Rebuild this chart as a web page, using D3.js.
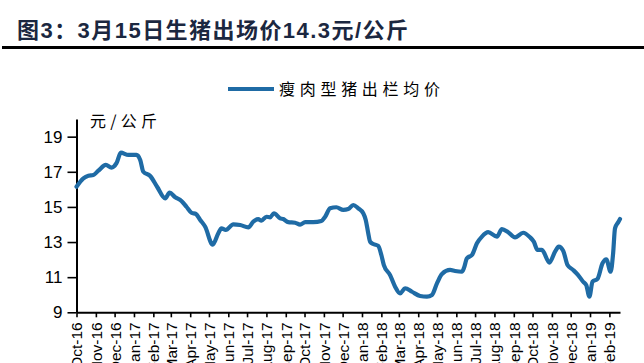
<!DOCTYPE html>
<html><head><meta charset="utf-8">
<script src="https://cdn.jsdelivr.net/npm/d3@7"></script>
<style>
html,body{margin:0;padding:0;background:#fff;overflow:hidden;}
svg{display:block;}
</style></head>
<body>
<svg id="chart" width="644" height="363"></svg>
<script>
const title = "图3：3月15日生猪出场价14.3元/公斤";
const seriesName = "瘦肉型猪出栏均价";
const unitLabel = "元/公斤";
const yTicks = [9, 11, 13, 15, 17, 19];
const monthTicks = ["2016-10-01","2016-11-01","2016-12-01","2017-01-01","2017-02-01","2017-03-01","2017-04-01","2017-05-01","2017-06-01","2017-07-01","2017-08-01","2017-09-01","2017-10-01","2017-11-01","2017-12-01","2018-01-01","2018-02-01","2018-03-01","2018-04-01","2018-05-01","2018-06-01","2018-07-01","2018-08-01","2018-09-01","2018-10-01","2018-11-01","2018-12-01","2019-01-01","2019-02-01"];
const dates = ["2016-10-01","2016-10-12","2016-10-20","2016-10-28","2016-11-05","2016-11-17","2016-11-26","2016-12-04","2016-12-11","2016-12-23",
"2017-01-05","2017-01-11","2017-01-16","2017-01-27","2017-02-07","2017-02-20","2017-02-27","2017-03-08","2017-03-18","2017-03-26",
"2017-04-03","2017-04-10","2017-04-17","2017-04-25","2017-05-07","2017-05-16","2017-05-21","2017-05-28","2017-06-09","2017-06-20",
"2017-07-03","2017-07-11","2017-07-19","2017-07-24","2017-08-01","2017-08-07","2017-08-13","2017-08-23","2017-08-28","2017-09-05",
"2017-09-16","2017-09-24","2017-10-02","2017-10-15","2017-10-28","2017-11-03","2017-11-11","2017-11-21","2017-12-02","2017-12-10",
"2017-12-18","2017-12-26","2018-01-03","2018-01-07","2018-01-11","2018-01-14","2018-01-19","2018-01-27","2018-02-01","2018-02-05",
"2018-02-15","2018-02-23","2018-03-03","2018-03-11","2018-03-22","2018-04-04","2018-04-15","2018-04-23","2018-05-01","2018-05-09",
"2018-05-22","2018-05-30","2018-06-10","2018-06-13","2018-06-18","2018-06-26","2018-07-04","2018-07-12","2018-07-22","2018-08-05",
"2018-08-13","2018-08-23","2018-09-03","2018-09-16","2018-09-27","2018-10-03","2018-10-09","2018-10-16","2018-10-28","2018-11-06",
"2018-11-12","2018-11-19","2018-11-26","2018-12-05","2018-12-13","2018-12-21","2018-12-26","2018-12-31","2019-01-05","2019-01-13",
"2019-01-21","2019-01-27","2019-02-03","2019-02-07","2019-02-10","2019-02-15","2019-02-18"];
const prices = [16.15,16.63,16.78,16.82,17.06,17.39,17.24,17.49,18.09,17.96,
17.96,17.67,17.00,16.76,16.15,15.49,15.81,15.55,15.34,15.01,
14.67,14.60,14.26,13.87,12.85,13.50,13.78,13.69,14.01,13.97,
13.84,14.16,14.30,14.22,14.44,14.41,14.64,14.35,14.31,14.13,
14.10,13.99,14.13,14.13,14.20,14.44,14.92,14.98,14.83,14.88,
15.11,14.92,14.64,14.26,13.50,13.02,12.89,12.78,12.26,11.69,
11.12,10.46,10.08,10.37,10.17,9.93,9.89,9.99,10.65,11.18,
11.41,11.35,11.31,11.50,12.08,12.26,12.93,13.31,13.56,13.31,
13.74,13.56,13.27,13.53,13.27,13.02,12.55,12.55,11.83,12.45,
12.74,12.51,11.69,11.41,11.12,10.74,10.55,9.89,10.74,10.90,
11.79,12.02,11.31,12.36,13.78,14.12,14.31];

const parse = d3.utcParse("%Y-%m-%d");
const data = dates.map((d,i)=>({date:parse(d), v:prices[i]}));
const svg = d3.select("#chart");

// title
svg.append("text").attr("x",17).attr("y",38)
  .attr("font-family","'Liberation Sans','Noto Sans CJK SC',sans-serif")
  .attr("font-weight","bold").attr("font-size",22)
  .attr("textLength",391).attr("lengthAdjust","spacing")
  .attr("fill","#1b2740").text(title);
svg.append("rect").attr("x",2).attr("y",46).attr("width",642).attr("height",3).attr("fill","#000");

const x = d3.scaleUtc().domain([parse("2016-10-01"), parse("2019-02-18")]).range([76.5, 620]);
const y = d3.scaleLinear().domain([9,20]).range([312.3,119.1]);

// y axis
const ya = svg.append("g").attr("transform","translate(76.5,0)")
  .call(d3.axisLeft(y).tickValues(yTicks).tickSize(9).tickSizeOuter(0).tickPadding(5).tickFormat(d3.format("d")));
ya.select(".domain").attr("stroke","#000").attr("stroke-width",2);
ya.selectAll(".tick line").attr("stroke","#000").attr("stroke-width",1.6);
ya.selectAll(".tick text").attr("font-family","'Liberation Sans',Arial,sans-serif").attr("font-size",17).attr("fill","#000");

// x axis
const xa = svg.append("g").attr("transform","translate(0,312.3)")
  .call(d3.axisBottom(x).tickValues(monthTicks.map(parse)).tickSize(5).tickSizeOuter(0).tickFormat(d3.utcFormat("%b-%y")));
xa.select(".domain").attr("stroke","#000").attr("stroke-width",2);
xa.selectAll(".tick line").attr("stroke","#000").attr("stroke-width",1.6);
xa.selectAll(".tick text").attr("font-family","'Liberation Sans',Arial,sans-serif").attr("font-size",15.5).attr("fill","#000")
  .attr("transform","rotate(-90)").attr("text-anchor","end").attr("x",-10).attr("y",0).attr("dy","0.35em");

// unit label
svg.append("text").attr("x",90).attr("y",127)
  .attr("font-family","'Noto Sans CJK SC',sans-serif").attr("font-size",16)
  .attr("textLength",67).attr("lengthAdjust","spacing")
  .attr("fill","#000").text(unitLabel);

// legend
svg.append("line").attr("x1",228).attr("x2",274).attr("y1",89).attr("y2",89)
  .attr("stroke","#1f6ba5").attr("stroke-width",4.2);
svg.append("text").attr("x",279).attr("y",95)
  .attr("font-family","'Noto Sans CJK SC',sans-serif").attr("font-size",16)
  .attr("textLength",161).attr("lengthAdjust","spacing")
  .attr("fill","#000").text(seriesName);

// line
const line = d3.line().x(d=>x(d.date)).y(d=>y(d.v)).curve(d3.curveMonotoneX);
svg.append("path").datum(data).attr("d",line).attr("fill","none")
  .attr("stroke","#1f6ba5").attr("stroke-width",4.2).attr("stroke-linejoin","round").attr("stroke-linecap","round");
</script>
</body></html>
